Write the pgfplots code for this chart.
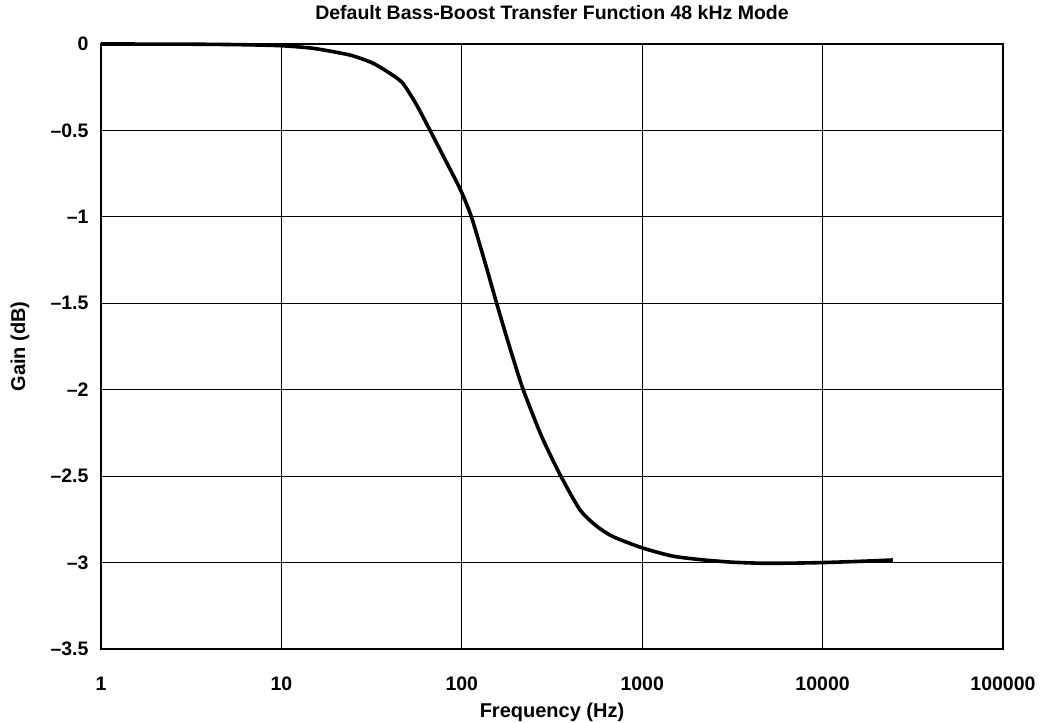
\documentclass[border=0pt]{standalone}
\usepackage{pgfplots}
\pgfplotsset{compat=1.18}
\usepackage{fontspec}
\setmainfont{Liberation Sans}
\begin{document}
\begin{tikzpicture}[x=1pt,y=1pt]
\begin{axis}[
  at={(0,0)}, anchor=south west,
  scale only axis, width=902pt, height=605pt,
  xmode=log, xmin=1, xmax=100000,
  ymin=-3.5, ymax=0,
  xtick={1,10,100,1000,10000,100000},
  xticklabels={1,10,100,1000,10000,100000},
  ytick={-3.5,-3,-2.5,-2,-1.5,-1,-0.5,0},
  yticklabels={–3.5,–3,–2.5,–2,–1.5,–1,–0.5,0},
  xminorticks=false, yminorticks=false,
  major tick length=0pt,
  grid=major,
  major grid style={black, line width=1.1pt},
  axis line style={black, line width=2.4pt},
  tick label style={font=\fontsize{19.5}{22}\selectfont\bfseries},
  xticklabel style={anchor=base, yshift=-41pt},
  yticklabel style={xshift=-9pt},
  xlabel={Frequency (Hz)},
  ylabel={Gain (dB)},
  label style={font=\fontsize{20}{22}\selectfont\bfseries},
  xlabel style={at={(axis description cs:0.5,0)}, anchor=center, yshift=-63pt},
  ylabel style={at={(axis description cs:-0.0898,0.5)}, anchor=center},
  title={Default Bass-Boost Transfer Function 48 kHz Mode},
  title style={font=\fontsize{19.5}{22}\selectfont\bfseries, at={(axis description cs:0.5,1)}, anchor=center, yshift=25pt},
  clip=false,
]
\addplot[black, line width=3.6pt, smooth, tension=0.4] coordinates {
(1,0) (3,-0.001) (6,-0.004) (10,-0.01) (15,-0.025) (24,-0.064) (32,-0.11)
(40,-0.17) (47,-0.226) (56,-0.35) (66.7,-0.5) (80,-0.66) (98,-0.84)
(113,-1.0) (135,-1.27) (156,-1.5) (185,-1.76) (219,-2.0) (277,-2.27)
(350,-2.49) (452,-2.695) (560,-2.79) (689,-2.85) (1000,-2.915)
(1482,-2.963) (2200,-2.985) (3184,-2.998) (4677,-3.004) (7000,-3.003)
(10000,-3.0) (16000,-2.993) (24500,-2.985)
};
\end{axis}
\pgfresetboundingbox
\path[use as bounding box] (-101pt,-74pt) rectangle (941pt,649pt);
\end{tikzpicture}
\end{document}
